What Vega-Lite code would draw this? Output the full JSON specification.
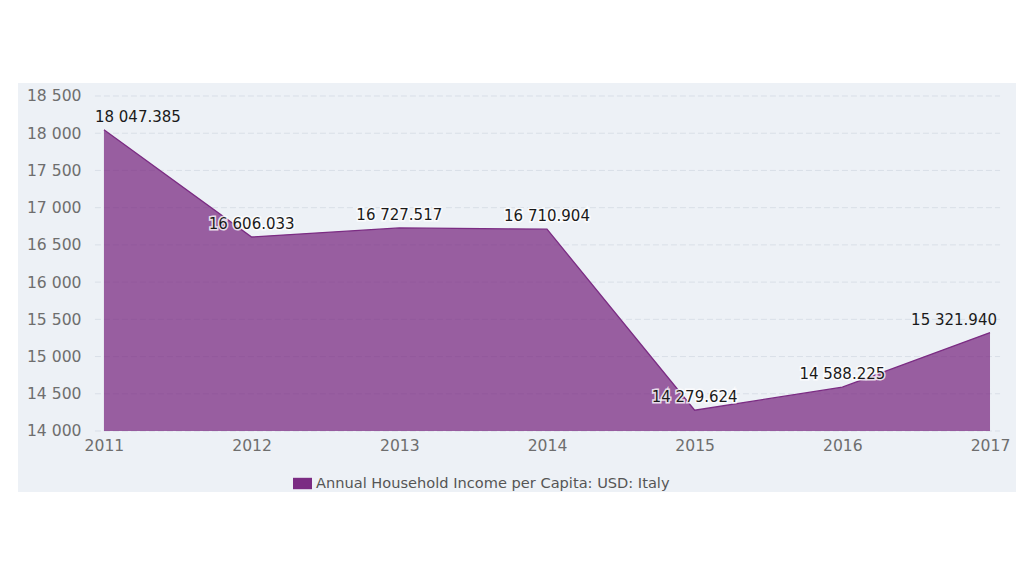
{
  "$schema": "https://vega.github.io/schema/vega-lite/v6.json",
  "width": 998,
  "height": 409,
  "autosize": {"type": "none"},
  "padding": {"left": 18, "top": 83, "right": 8, "bottom": 84},
  "background": "white",
  "config": {
    "view": {"fill": "#edf1f6", "stroke": null},
    "locale": {"number": {"decimal": ".", "thousands": " ", "grouping": [3], "currency": ["", ""]}},
    "font": "DejaVu Sans"
  },
  "datasets": {
    "income": [
      {"year": 2011, "value": 18047.385},
      {"year": 2012, "value": 16606.033},
      {"year": 2013, "value": 16727.517},
      {"year": 2014, "value": 16710.904},
      {"year": 2015, "value": 14279.624},
      {"year": 2016, "value": 14588.225},
      {"year": 2017, "value": 15321.940}
    ],
    "grid": [
      {"tick": 14000}, {"tick": 14500}, {"tick": 15000}, {"tick": 15500}, {"tick": 16000},
      {"tick": 16500}, {"tick": 17000}, {"tick": 17500}, {"tick": 18000}, {"tick": 18500}
    ]
  },
  "layer": [
    {
      "data": {"name": "grid"},
      "mark": {"type": "rule", "color": "#d9dfe7", "strokeWidth": 1, "strokeDash": [6, 3]},
      "encoding": {
        "y": {"field": "tick", "type": "quantitative", "scale": {"domain": [13180.6, 18674.6], "nice": false, "zero": false},
          "axis": {"title": null, "orient": "left", "offset": -65, "values": [14000, 14500, 15000, 15500, 16000, 16500, 17000, 17500, 18000, 18500],
            "format": ",.0f", "grid": false, "domain": false, "ticks": false, "labelPadding": 2,
            "labelColor": "#6e6e6e", "labelFontSize": 15.6, "labelFont": "DejaVu Sans"}},
        "x": {"datum": 2010.939, "type": "quantitative", "scale": {"domain": [2010.418, 2017.176], "nice": false, "zero": false},
          "axis": {"title": null, "orient": "bottom", "offset": -61, "values": [2011, 2012, 2013, 2014, 2015, 2016, 2017],
            "format": "d", "grid": false, "domain": false, "ticks": false, "labelPadding": 7,
            "labelColor": "#6e6e6e", "labelFontSize": 15.6, "labelFont": "DejaVu Sans", "labelFlush": false}},
        "x2": {"datum": 2017.068}
      }
    },
    {
      "data": {"name": "income"},
      "mark": {"type": "area", "opacity": 0.75, "line": {"color": "#76287e", "strokeWidth": 1.3}},
      "encoding": {
        "x": {"field": "year", "type": "quantitative"},
        "y": {"field": "value", "type": "quantitative"},
        "y2": {"datum": 14000},
        "color": {"datum": "Annual Household Income per Capita: USD: Italy", "type": "nominal",
          "scale": {"range": ["#7b2c83"]},
          "legend": {"title": null, "orient": "none", "legendX": 275, "legendY": 391, "padding": 0,
            "symbolType": "M-1,-0.6H1V0.6H-1Z", "symbolSize": 361, "symbolOpacity": 1, "symbolStrokeWidth": 0,
            "labelFontSize": 14.6, "labelColor": "#555555", "labelFont": "DejaVu Sans", "labelOffset": 4, "labelLimit": 600}}
      }
    },
    {
      "data": {"name": "income"},
      "transform": [{"filter": "datum.year > 2011 && datum.year < 2017"}],
      "mark": {"type": "text", "align": "center", "baseline": "bottom", "dy": -5, "fontSize": 15, "color": "#ffffff", "stroke": "#ffffff", "strokeWidth": 3, "strokeOpacity": 0.8},
      "encoding": {"x": {"field": "year", "type": "quantitative"}, "y": {"field": "value", "type": "quantitative"}, "text": {"field": "value", "type": "quantitative", "format": ",.3f"}}
    },
    {
      "data": {"name": "income"},
      "transform": [{"filter": "datum.year > 2011 && datum.year < 2017"}],
      "mark": {"type": "text", "align": "center", "baseline": "bottom", "dy": -5, "fontSize": 15, "color": "#1a1a1a"},
      "encoding": {"x": {"field": "year", "type": "quantitative"}, "y": {"field": "value", "type": "quantitative"}, "text": {"field": "value", "type": "quantitative", "format": ",.3f"}}
    },
    {
      "data": {"name": "income"},
      "transform": [{"filter": "datum.year == 2011"}],
      "mark": {"type": "text", "align": "left", "baseline": "bottom", "dx": -9, "dy": -5, "fontSize": 15, "color": "#1a1a1a"},
      "encoding": {"x": {"field": "year", "type": "quantitative"}, "y": {"field": "value", "type": "quantitative"}, "text": {"field": "value", "type": "quantitative", "format": ",.3f"}}
    },
    {
      "data": {"name": "income"},
      "transform": [{"filter": "datum.year == 2017"}],
      "mark": {"type": "text", "align": "right", "baseline": "bottom", "dx": 7, "dy": -5, "fontSize": 15, "color": "#1a1a1a"},
      "encoding": {"x": {"field": "year", "type": "quantitative"}, "y": {"field": "value", "type": "quantitative"}, "text": {"field": "value", "type": "quantitative", "format": ",.3f"}}
    }
  ]
}
